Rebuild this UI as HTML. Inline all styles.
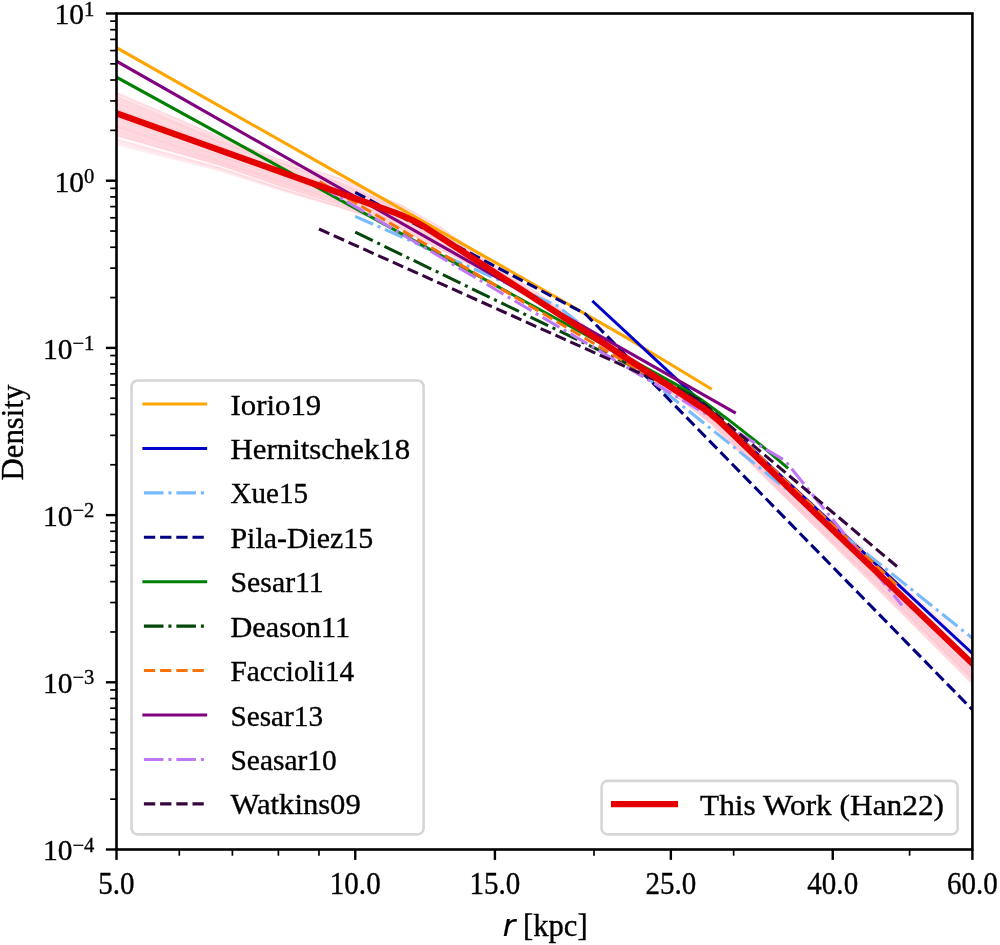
<!DOCTYPE html><html><head><meta charset="utf-8"><style>html,body{margin:0;padding:0;background:#fff;overflow:hidden}svg{display:block}</style></head><body><svg width="1000" height="945" viewBox="0 0 1000 945">
<rect width="1000" height="945" fill="#fff"/>
<defs><clipPath id="ax"><rect x="116.5" y="13.5" width="855.9" height="836.0"/></clipPath></defs>
<g clip-path="url(#ax)" fill="none" stroke-linejoin="round">
<polygon points="110.00,88.69 117.00,91.49 220.00,136.29 280.00,158.73 340.00,177.17 380.00,195.46 400.00,203.61 440.00,225.83 500.00,267.89 560.00,306.95 620.00,349.01 680.00,389.07 711.00,409.25 760.00,455.19 850.00,534.41 971.00,637.33 980.00,644.95 980.00,692.25 971.00,683.33 850.00,562.41 760.00,473.19 711.00,424.25 680.00,400.07 620.00,358.01 560.00,317.95 500.00,280.89 440.00,249.83 400.00,229.61 380.00,220.46 340.00,208.17 280.00,190.73 220.00,171.29 117.00,145.49 110.00,143.49" fill="#FFC0CB" fill-opacity="0.10" stroke="none"/>
<polygon points="110.00,93.69 117.00,96.49 220.00,139.29 280.00,161.73 340.00,182.17 380.00,199.46 400.00,206.61 440.00,229.83 500.00,270.89 560.00,309.95 620.00,351.01 680.00,391.07 711.00,411.25 760.00,458.19 850.00,546.41 971.00,666.83 980.00,675.65 980.00,688.85 971.00,679.83 850.00,559.41 760.00,471.19 711.00,422.25 680.00,398.07 620.00,356.01 560.00,315.95 500.00,278.89 440.00,246.83 400.00,226.61 380.00,218.46 340.00,205.17 280.00,185.73 220.00,165.29 117.00,135.49 110.00,133.49" fill="#FFC0CB" fill-opacity="0.45" stroke="none"/>
<g stroke="#FFC0CB" stroke-width="1.0" stroke-opacity="0.16">
<polyline points="110.00,125.65 117.00,124.51 220.00,158.80 280.00,179.42 340.00,197.07 380.00,213.94 400.00,220.42 440.00,241.26 500.00,277.09 560.00,314.57 620.00,354.72 680.00,396.61 711.00,419.34 760.00,467.80 850.00,556.14 971.00,676.88 980.00,686.22"/>
<polyline points="110.00,124.05 117.00,126.98 220.00,159.65 280.00,182.80 340.00,200.52 380.00,214.74 400.00,223.09 440.00,244.75 500.00,277.19 560.00,314.58 620.00,355.49 680.00,396.24 711.00,419.86 760.00,468.90 850.00,557.96 971.00,676.70 980.00,684.89"/>
<polyline points="110.00,90.24 117.00,93.08 220.00,137.28 280.00,159.67 340.00,178.65 380.00,196.65 400.00,204.45 440.00,226.89 500.00,268.70 560.00,308.05 620.00,349.54 680.00,389.67 711.00,409.72 760.00,456.11 850.00,539.22 971.00,647.27 980.00,656.15"/>
<polyline points="110.00,133.76 117.00,135.49 220.00,165.63 280.00,185.88 340.00,205.22 380.00,218.58 400.00,226.93 440.00,246.95 500.00,279.05 560.00,316.16 620.00,356.01 680.00,398.07 711.00,422.35 760.00,471.19 850.00,559.43 971.00,680.07 980.00,689.05"/>
<polyline points="110.00,93.07 117.00,95.76 220.00,138.78 280.00,161.45 340.00,181.62 380.00,198.83 400.00,206.32 440.00,229.17 500.00,270.43 560.00,309.62 620.00,350.74 680.00,390.82 711.00,411.04 760.00,457.92 850.00,545.01 971.00,662.67 980.00,674.79"/>
<polyline points="110.00,111.25 117.00,109.89 220.00,148.76 280.00,170.50 340.00,191.77 380.00,208.76 400.00,215.33 440.00,237.50 500.00,274.21 560.00,312.45 620.00,352.95 680.00,393.83 711.00,414.64 760.00,462.84 850.00,551.02 971.00,672.54 980.00,681.36"/>
<polyline points="110.00,121.50 117.00,131.16 220.00,162.96 280.00,179.90 340.00,200.58 380.00,215.76 400.00,223.38 440.00,243.42 500.00,277.56 560.00,315.25 620.00,355.35 680.00,397.20 711.00,421.65 760.00,469.08 850.00,556.96 971.00,677.37 980.00,686.68"/>
<polyline points="110.00,125.40 117.00,125.22 220.00,161.02 280.00,180.73 340.00,198.75 380.00,213.66 400.00,221.09 440.00,242.43 500.00,277.52 560.00,314.59 620.00,355.14 680.00,396.59 711.00,419.18 760.00,468.01 850.00,557.78 971.00,676.59 980.00,685.41"/>
<polyline points="110.00,114.62 117.00,116.29 220.00,154.12 280.00,173.59 340.00,195.00 380.00,209.18 400.00,216.74 440.00,238.25 500.00,275.40 560.00,313.03 620.00,353.96 680.00,394.42 711.00,416.81 760.00,463.99 850.00,554.13 971.00,673.77 980.00,682.56"/>
<polyline points="110.00,93.35 117.00,96.06 220.00,138.92 280.00,161.53 340.00,181.73 380.00,199.25 400.00,206.26 440.00,229.49 500.00,270.59 560.00,309.61 620.00,350.78 680.00,390.86 711.00,411.03 760.00,458.07 850.00,545.71 971.00,663.39 980.00,674.37"/>
<polyline points="110.00,122.73 117.00,123.70 220.00,157.18 280.00,178.51 340.00,198.48 380.00,212.99 400.00,220.54 440.00,241.89 500.00,276.72 560.00,314.12 620.00,354.24 680.00,396.13 711.00,418.52 760.00,466.90 850.00,555.34 971.00,675.73 980.00,684.35"/>
<polyline points="110.00,98.99 117.00,100.68 220.00,142.48 280.00,164.17 340.00,184.55 380.00,200.98 400.00,208.70 440.00,230.29 500.00,271.42 560.00,310.74 620.00,351.39 680.00,392.03 711.00,411.93 760.00,459.49 850.00,548.12 971.00,667.77 980.00,676.78"/>
<polyline points="110.00,142.67 117.00,145.49 220.00,171.21 280.00,190.57 340.00,207.92 380.00,220.35 400.00,229.61 440.00,249.83 500.00,280.88 560.00,317.83 620.00,357.89 680.00,400.03 711.00,424.13 760.00,473.19 850.00,562.09 971.00,683.33 980.00,692.25"/>
<polyline points="110.00,131.63 117.00,133.57 220.00,165.26 280.00,185.73 340.00,204.62 380.00,217.90 400.00,226.61 440.00,246.83 500.00,278.89 560.00,315.65 620.00,355.97 680.00,398.04 711.00,421.23 760.00,471.19 850.00,559.22 971.00,679.40 980.00,688.85"/>
<polyline points="110.00,90.25 117.00,93.21 220.00,136.98 280.00,159.62 340.00,178.11 380.00,196.48 400.00,204.18 440.00,226.65 500.00,268.77 560.00,307.82 620.00,349.47 680.00,389.65 711.00,409.70 760.00,456.01 850.00,536.83 971.00,644.33 980.00,651.19"/>
<polyline points="110.00,97.15 117.00,96.49 220.00,140.88 280.00,163.52 340.00,182.26 380.00,201.47 400.00,207.46 440.00,229.83 500.00,271.36 560.00,310.08 620.00,351.01 680.00,391.07 711.00,411.76 760.00,458.27 850.00,547.23 971.00,667.51 980.00,675.85"/>
<polyline points="110.00,127.99 117.00,126.80 220.00,160.09 280.00,181.97 340.00,201.65 380.00,213.59 400.00,223.78 440.00,244.54 500.00,277.17 560.00,314.84 620.00,355.10 680.00,397.02 711.00,419.69 760.00,468.49 850.00,557.54 971.00,677.78 980.00,687.00"/>
<polyline points="110.00,93.69 117.00,103.02 220.00,139.46 280.00,162.25 340.00,182.48 380.00,200.24 400.00,206.64 440.00,229.83 500.00,270.89 560.00,310.07 620.00,351.03 680.00,391.08 711.00,412.48 760.00,458.94 850.00,547.32 971.00,666.90 980.00,676.15"/>
<polyline points="110.00,94.98 117.00,98.60 220.00,141.70 280.00,163.22 340.00,183.08 380.00,199.46 400.00,208.04 440.00,231.11 500.00,271.06 560.00,310.51 620.00,351.01 680.00,391.42 711.00,411.62 760.00,458.88 850.00,546.88 971.00,667.11 980.00,675.80"/>
<polyline points="110.00,138.69 117.00,141.00 220.00,168.92 280.00,188.49 340.00,207.03 380.00,219.53 400.00,228.26 440.00,248.50 500.00,280.07 560.00,317.05 620.00,357.07 680.00,399.15 711.00,423.24 760.00,472.40 850.00,561.17 971.00,681.83 980.00,690.77"/>
<polyline points="110.00,101.79 117.00,105.96 220.00,145.57 280.00,167.23 340.00,187.61 380.00,203.74 400.00,212.53 440.00,235.24 500.00,272.70 560.00,311.22 620.00,352.60 680.00,393.24 711.00,413.46 760.00,460.46 850.00,549.98 971.00,670.49 980.00,678.56"/>
<polyline points="110.00,119.04 117.00,119.79 220.00,155.62 280.00,177.14 340.00,195.12 380.00,211.39 400.00,218.08 440.00,240.75 500.00,275.49 560.00,313.37 620.00,353.93 680.00,395.35 711.00,417.56 760.00,466.28 850.00,554.47 971.00,674.85 980.00,683.89"/>
<polyline points="110.00,138.75 117.00,140.30 220.00,168.43 280.00,187.96 340.00,206.49 380.00,219.46 400.00,228.10 440.00,248.31 500.00,279.89 560.00,316.97 620.00,356.84 680.00,399.14 711.00,423.25 760.00,472.20 850.00,560.84 971.00,681.59 980.00,690.46"/>
<polyline points="110.00,96.10 117.00,96.49 220.00,141.92 280.00,161.95 340.00,182.17 380.00,199.46 400.00,207.59 440.00,231.12 500.00,271.46 560.00,310.05 620.00,351.46 680.00,391.27 711.00,411.34 760.00,458.64 850.00,546.94 971.00,667.27 980.00,676.29"/>
<polyline points="110.00,131.76 117.00,135.49 220.00,164.26 280.00,185.73 340.00,204.45 380.00,217.51 400.00,226.15 440.00,246.83 500.00,278.89 560.00,315.66 620.00,355.38 680.00,398.07 711.00,422.11 760.00,470.85 850.00,559.16 971.00,678.96 980.00,688.85"/>
<polyline points="110.00,91.35 117.00,94.15 220.00,137.87 280.00,160.40 340.00,179.62 380.00,197.58 400.00,205.15 440.00,227.90 500.00,269.48 560.00,308.47 620.00,350.06 680.00,390.10 711.00,410.37 760.00,456.73 850.00,540.78 971.00,655.70 980.00,661.65"/>
<polyline points="110.00,113.28 117.00,116.20 220.00,152.32 280.00,174.36 340.00,191.86 380.00,208.68 400.00,215.49 440.00,237.70 500.00,274.97 560.00,313.04 620.00,353.33 680.00,394.55 711.00,416.46 760.00,464.58 850.00,552.43 971.00,672.85 980.00,682.75"/>
<polyline points="110.00,125.87 117.00,129.73 220.00,161.38 280.00,182.97 340.00,202.00 380.00,215.44 400.00,222.51 440.00,244.07 500.00,277.59 560.00,314.91 620.00,355.22 680.00,396.52 711.00,420.59 760.00,468.94 850.00,557.34 971.00,677.52 980.00,686.40"/>
<polyline points="110.00,106.43 117.00,108.59 220.00,146.05 280.00,170.07 340.00,186.91 380.00,204.34 400.00,211.56 440.00,233.74 500.00,272.87 560.00,311.55 620.00,352.56 680.00,392.70 711.00,415.08 760.00,461.67 850.00,550.00 971.00,670.15 980.00,679.62"/>
<polyline points="110.00,94.87 117.00,98.88 220.00,142.56 280.00,163.23 340.00,184.01 380.00,200.80 400.00,206.91 440.00,231.16 500.00,271.43 560.00,310.50 620.00,351.47 680.00,391.96 711.00,411.25 760.00,458.76 850.00,547.02 971.00,667.24 980.00,676.74"/>
<polyline points="110.00,95.38 117.00,96.49 220.00,140.67 280.00,162.69 340.00,183.14 380.00,200.75 400.00,206.61 440.00,230.57 500.00,271.03 560.00,309.95 620.00,351.01 680.00,391.72 711.00,411.25 760.00,458.49 850.00,546.41 971.00,667.31 980.00,676.41"/>
<polyline points="110.00,91.57 117.00,94.55 220.00,137.96 280.00,160.83 340.00,180.33 380.00,198.05 400.00,205.43 440.00,227.88 500.00,269.70 560.00,308.67 620.00,350.23 680.00,390.25 711.00,410.49 760.00,456.87 850.00,541.39 971.00,654.92 980.00,662.33"/>
<polyline points="110.00,105.23 117.00,103.61 220.00,144.97 280.00,167.03 340.00,188.96 380.00,205.30 400.00,211.35 440.00,234.06 500.00,272.94 560.00,311.53 620.00,352.16 680.00,392.22 711.00,414.22 760.00,462.30 850.00,549.28 971.00,670.76 980.00,679.41"/>
<polyline points="110.00,90.36 117.00,93.11 220.00,137.41 280.00,159.91 340.00,179.23 380.00,196.95 400.00,204.76 440.00,227.27 500.00,269.13 560.00,307.89 620.00,349.78 680.00,389.64 711.00,410.14 760.00,456.43 850.00,537.93 971.00,647.81 980.00,654.79"/>
<polyline points="110.00,123.48 117.00,126.33 220.00,159.21 280.00,180.79 340.00,200.88 380.00,214.79 400.00,221.93 440.00,244.11 500.00,277.31 560.00,314.36 620.00,354.84 680.00,397.26 711.00,419.93 760.00,469.39 850.00,557.58 971.00,677.59 980.00,685.55"/>
<polyline points="110.00,139.49 117.00,142.33 220.00,169.09 280.00,189.23 340.00,207.37 380.00,219.88 400.00,228.61 440.00,249.04 500.00,280.25 560.00,317.32 620.00,357.39 680.00,399.40 711.00,423.66 760.00,472.47 850.00,561.26 971.00,682.40 980.00,691.09"/>
<polyline points="110.00,95.64 117.00,99.92 220.00,140.60 280.00,165.77 340.00,184.85 380.00,202.16 400.00,208.66 440.00,232.62 500.00,271.91 560.00,310.51 620.00,351.32 680.00,391.48 711.00,412.47 760.00,459.79 850.00,546.93 971.00,667.85 980.00,677.70"/>
<polyline points="110.00,108.84 117.00,114.17 220.00,149.85 280.00,171.69 340.00,193.18 380.00,208.02 400.00,215.01 440.00,237.39 500.00,274.32 560.00,312.20 620.00,353.03 680.00,394.12 711.00,416.19 760.00,463.10 850.00,551.52 971.00,672.05 980.00,680.47"/>
<polyline points="110.00,114.32 117.00,115.03 220.00,152.78 280.00,172.25 340.00,193.91 380.00,208.42 400.00,215.80 440.00,236.84 500.00,274.62 560.00,312.87 620.00,353.47 680.00,394.61 711.00,416.79 760.00,464.66 850.00,552.53 971.00,672.97 980.00,682.09"/>
<polyline points="110.00,140.87 117.00,144.42 220.00,169.84 280.00,189.38 340.00,207.36 380.00,220.10 400.00,229.05 440.00,249.31 500.00,280.52 560.00,317.49 620.00,357.68 680.00,399.62 711.00,423.74 760.00,472.87 850.00,561.88 971.00,682.51 980.00,691.55"/>
<polyline points="110.00,116.70 117.00,118.11 220.00,157.25 280.00,175.52 340.00,197.30 380.00,211.37 400.00,218.43 440.00,239.42 500.00,275.93 560.00,313.71 620.00,353.79 680.00,395.61 711.00,418.19 760.00,465.70 850.00,554.02 971.00,675.18 980.00,683.23"/>
<polyline points="110.00,102.81 117.00,109.12 220.00,145.96 280.00,169.79 340.00,189.27 380.00,205.17 400.00,213.71 440.00,235.34 500.00,273.37 560.00,311.95 620.00,352.62 680.00,393.49 711.00,414.45 760.00,461.12 850.00,551.05 971.00,671.08 980.00,679.83"/>
<polyline points="110.00,133.49 117.00,135.60 220.00,165.32 280.00,185.98 340.00,205.17 380.00,218.53 400.00,226.70 440.00,246.87 500.00,278.98 560.00,315.95 620.00,356.01 680.00,398.08 711.00,422.25 760.00,471.40 850.00,559.41 971.00,679.83 980.00,689.00"/>
<polyline points="110.00,137.97 117.00,140.31 220.00,167.70 280.00,187.87 340.00,206.45 380.00,219.46 400.00,227.94 440.00,247.92 500.00,279.84 560.00,316.90 620.00,356.72 680.00,398.72 711.00,423.32 760.00,472.07 850.00,560.46 971.00,681.50 980.00,690.52"/>
<polyline points="110.00,132.72 117.00,135.49 220.00,164.41 280.00,185.73 340.00,204.22 380.00,218.46 400.00,226.39 440.00,246.64 500.00,278.54 560.00,315.80 620.00,355.55 680.00,398.07 711.00,422.16 760.00,470.60 850.00,559.41 971.00,679.58 980.00,688.85"/>
<polyline points="110.00,102.58 117.00,106.08 220.00,145.34 280.00,167.81 340.00,188.50 380.00,203.82 400.00,212.67 440.00,233.03 500.00,273.18 560.00,311.53 620.00,352.39 680.00,393.15 711.00,413.74 760.00,461.48 850.00,549.62 971.00,669.59 980.00,678.37"/>
<polyline points="110.00,113.85 117.00,114.87 220.00,150.97 280.00,172.88 340.00,191.72 380.00,208.19 400.00,216.77 440.00,238.53 500.00,274.70 560.00,312.78 620.00,353.42 680.00,394.12 711.00,415.90 760.00,464.38 850.00,552.67 971.00,672.87 980.00,681.81"/>
<polyline points="110.00,107.45 117.00,109.47 220.00,149.37 280.00,168.80 340.00,188.39 380.00,205.39 400.00,214.23 440.00,235.34 500.00,272.92 560.00,312.70 620.00,352.55 680.00,393.43 711.00,415.30 760.00,462.87 850.00,550.82 971.00,670.52 980.00,680.49"/>
<polyline points="110.00,108.55 117.00,113.53 220.00,149.67 280.00,170.60 340.00,190.47 380.00,207.56 400.00,213.88 440.00,236.25 500.00,273.89 560.00,312.30 620.00,353.11 680.00,393.92 711.00,416.24 760.00,464.31 850.00,551.43 971.00,672.30 980.00,680.96"/>
<polyline points="110.00,124.13 117.00,127.15 220.00,161.79 280.00,181.65 340.00,201.96 380.00,215.80 400.00,222.59 440.00,244.26 500.00,277.40 560.00,314.97 620.00,355.20 680.00,396.85 711.00,419.81 760.00,469.12 850.00,557.20 971.00,677.88 980.00,686.04"/>
<polyline points="110.00,134.36 117.00,136.32 220.00,165.29 280.00,185.75 340.00,205.34 380.00,218.73 400.00,226.76 440.00,246.97 500.00,278.95 560.00,315.99 620.00,356.17 680.00,398.18 711.00,422.25 760.00,471.19 850.00,559.52 971.00,679.91 980.00,688.85"/>
<polyline points="110.00,121.32 117.00,125.89 220.00,158.96 280.00,179.90 340.00,198.41 380.00,214.49 400.00,221.18 440.00,242.92 500.00,277.11 560.00,314.43 620.00,355.26 680.00,396.38 711.00,419.73 760.00,467.87 850.00,556.39 971.00,675.99 980.00,685.94"/>
<polyline points="110.00,98.22 117.00,103.44 220.00,142.55 280.00,166.33 340.00,186.63 380.00,202.56 400.00,210.00 440.00,233.59 500.00,271.62 560.00,310.88 620.00,351.60 680.00,392.15 711.00,412.50 760.00,460.90 850.00,548.91 971.00,668.73 980.00,678.28"/>
<polyline points="110.00,129.87 117.00,129.65 220.00,161.34 280.00,183.54 340.00,202.51 380.00,216.45 400.00,223.68 440.00,245.72 500.00,278.28 560.00,315.46 620.00,355.24 680.00,398.01 711.00,421.40 760.00,469.20 850.00,558.47 971.00,678.33 980.00,686.99"/>
<polyline points="110.00,109.12 117.00,110.31 220.00,146.08 280.00,170.67 340.00,190.46 380.00,205.96 400.00,214.01 440.00,236.90 500.00,273.69 560.00,311.43 620.00,352.56 680.00,393.37 711.00,414.60 760.00,462.66 850.00,551.35 971.00,671.22 980.00,679.93"/>
<polyline points="110.00,131.57 117.00,132.17 220.00,163.66 280.00,184.18 340.00,203.18 380.00,216.88 400.00,225.19 440.00,246.54 500.00,278.32 560.00,315.37 620.00,355.73 680.00,396.89 711.00,421.14 760.00,470.00 850.00,558.70 971.00,677.80 980.00,687.86"/>
<polyline points="110.00,117.59 117.00,123.74 220.00,155.21 280.00,176.85 340.00,198.80 380.00,212.10 400.00,218.44 440.00,240.76 500.00,276.32 560.00,313.59 620.00,354.01 680.00,395.50 711.00,418.21 760.00,466.03 850.00,553.79 971.00,675.23 980.00,683.79"/>
<polyline points="110.00,120.83 117.00,127.91 220.00,159.53 280.00,178.80 340.00,198.57 380.00,213.36 400.00,220.97 440.00,240.66 500.00,276.02 560.00,314.31 620.00,354.75 680.00,396.22 711.00,419.25 760.00,467.22 850.00,555.93 971.00,676.65 980.00,685.10"/>
<polyline points="110.00,122.20 117.00,125.08 220.00,157.05 280.00,180.21 340.00,200.40 380.00,213.68 400.00,221.07 440.00,244.02 500.00,277.22 560.00,314.72 620.00,354.36 680.00,396.81 711.00,420.10 760.00,468.67 850.00,556.38 971.00,675.92 980.00,687.00"/>
<polyline points="110.00,127.67 117.00,127.14 220.00,162.42 280.00,181.81 340.00,201.04 380.00,215.56 400.00,222.72 440.00,244.10 500.00,277.28 560.00,315.11 620.00,355.16 680.00,397.02 711.00,420.63 760.00,469.51 850.00,556.64 971.00,678.00 980.00,686.78"/>
<polyline points="110.00,114.00 117.00,119.19 220.00,152.20 280.00,172.65 340.00,193.81 380.00,207.58 400.00,215.31 440.00,238.61 500.00,274.75 560.00,313.01 620.00,353.69 680.00,394.44 711.00,415.88 760.00,463.99 850.00,552.08 971.00,673.04 980.00,681.67"/>
<polyline points="110.00,119.87 117.00,117.53 220.00,155.35 280.00,176.74 340.00,196.16 380.00,211.03 400.00,218.16 440.00,240.08 500.00,275.68 560.00,313.54 620.00,353.90 680.00,394.95 711.00,417.94 760.00,466.14 850.00,553.61 971.00,674.47 980.00,683.51"/>
<polyline points="110.00,141.44 117.00,142.69 220.00,169.80 280.00,189.18 340.00,207.45 380.00,219.98 400.00,229.18 440.00,248.89 500.00,280.43 560.00,317.51 620.00,357.52 680.00,399.63 711.00,423.76 760.00,472.75 850.00,561.71 971.00,682.53 980.00,691.36"/>
<polyline points="110.00,90.71 117.00,93.84 220.00,137.38 280.00,159.86 340.00,178.98 380.00,196.87 400.00,204.85 440.00,227.35 500.00,269.07 560.00,307.92 620.00,349.82 680.00,389.79 711.00,409.88 760.00,456.27 850.00,538.33 971.00,650.61 980.00,654.90"/>
<polyline points="110.00,137.20 117.00,138.96 220.00,167.73 280.00,187.60 340.00,206.45 380.00,219.36 400.00,227.85 440.00,248.26 500.00,279.73 560.00,316.73 620.00,356.69 680.00,398.87 711.00,423.06 760.00,472.05 850.00,560.57 971.00,681.20 980.00,690.33"/>
<polyline points="110.00,100.64 117.00,102.43 220.00,143.23 280.00,163.01 340.00,184.88 380.00,202.63 400.00,208.97 440.00,232.60 500.00,272.02 560.00,310.86 620.00,351.77 680.00,392.46 711.00,413.10 760.00,460.15 850.00,547.75 971.00,668.95 980.00,677.07"/>
<polyline points="110.00,139.77 117.00,141.94 220.00,168.52 280.00,188.91 340.00,207.00 380.00,219.74 400.00,228.45 440.00,248.61 500.00,280.05 560.00,317.15 620.00,357.17 680.00,399.19 711.00,423.57 760.00,472.48 850.00,561.15 971.00,682.02 980.00,691.06"/>
<polyline points="110.00,118.49 117.00,122.28 220.00,156.86 280.00,176.64 340.00,196.17 380.00,212.19 400.00,219.99 440.00,240.59 500.00,276.28 560.00,313.88 620.00,354.44 680.00,395.76 711.00,419.18 760.00,467.70 850.00,555.56 971.00,675.66 980.00,685.03"/>
<polyline points="110.00,105.55 117.00,108.97 220.00,145.74 280.00,170.90 340.00,189.84 380.00,205.57 400.00,212.97 440.00,235.97 500.00,273.17 560.00,311.79 620.00,352.64 680.00,393.00 711.00,414.39 760.00,461.60 850.00,550.47 971.00,670.63 980.00,679.70"/>
<polyline points="110.00,127.70 117.00,127.49 220.00,161.68 280.00,182.16 340.00,200.09 380.00,214.02 400.00,223.40 440.00,243.28 500.00,277.25 560.00,314.76 620.00,355.16 680.00,396.29 711.00,420.63 760.00,468.70 850.00,557.56 971.00,676.96 980.00,686.07"/>
<polyline points="110.00,112.17 117.00,114.07 220.00,150.96 280.00,170.35 340.00,192.77 380.00,208.06 400.00,215.07 440.00,237.01 500.00,274.41 560.00,312.57 620.00,353.12 680.00,394.23 711.00,415.82 760.00,464.68 850.00,551.19 971.00,672.56 980.00,681.94"/>
<polyline points="110.00,89.34 117.00,92.26 220.00,136.98 280.00,159.45 340.00,178.32 380.00,195.98 400.00,204.29 440.00,226.89 500.00,268.32 560.00,307.30 620.00,349.46 680.00,389.46 711.00,409.60 760.00,455.72 850.00,535.77 971.00,641.64 980.00,650.66"/>
<polyline points="110.00,109.07 117.00,113.24 220.00,149.18 280.00,170.91 340.00,190.87 380.00,206.73 400.00,214.79 440.00,237.00 500.00,274.38 560.00,312.10 620.00,353.07 680.00,394.28 711.00,415.32 760.00,463.24 850.00,552.50 971.00,671.65 980.00,680.92"/>
<polyline points="110.00,101.51 117.00,104.58 220.00,143.86 280.00,165.45 340.00,187.01 380.00,203.06 400.00,210.01 440.00,233.78 500.00,272.15 560.00,310.97 620.00,352.04 680.00,392.34 711.00,413.08 760.00,460.84 850.00,549.92 971.00,668.79 980.00,678.16"/>
<polyline points="110.00,97.84 117.00,97.27 220.00,143.08 280.00,162.93 340.00,184.68 380.00,202.01 400.00,208.77 440.00,231.94 500.00,272.00 560.00,310.95 620.00,351.53 680.00,391.84 711.00,412.17 760.00,460.57 850.00,548.34 971.00,667.58 980.00,676.97"/>
<polyline points="110.00,105.46 117.00,111.35 220.00,149.53 280.00,170.86 340.00,192.00 380.00,206.97 400.00,214.50 440.00,236.35 500.00,274.26 560.00,312.51 620.00,352.86 680.00,393.99 711.00,414.84 760.00,462.79 850.00,551.14 971.00,671.46 980.00,681.00"/>
<polyline points="110.00,127.46 117.00,130.69 220.00,162.90 280.00,182.32 340.00,201.85 380.00,215.78 400.00,223.52 440.00,244.83 500.00,277.86 560.00,315.42 620.00,355.14 680.00,396.94 711.00,420.62 760.00,468.95 850.00,557.76 971.00,677.82 980.00,686.25"/>
<polyline points="110.00,138.02 117.00,139.94 220.00,167.95 280.00,188.28 340.00,206.67 380.00,219.34 400.00,228.10 440.00,248.45 500.00,279.94 560.00,316.87 620.00,357.06 680.00,398.89 711.00,423.20 760.00,472.13 850.00,561.02 971.00,681.37 980.00,690.38"/>
<polyline points="110.00,102.95 117.00,106.04 220.00,147.30 280.00,169.20 340.00,188.02 380.00,204.58 400.00,213.66 440.00,235.51 500.00,273.49 560.00,311.66 620.00,352.39 680.00,393.09 711.00,414.29 760.00,462.12 850.00,549.11 971.00,671.13 980.00,679.77"/>
<polyline points="110.00,119.27 117.00,121.03 220.00,156.38 280.00,177.55 340.00,195.93 380.00,211.29 400.00,220.02 440.00,240.07 500.00,275.90 560.00,313.51 620.00,353.85 680.00,395.10 711.00,418.20 760.00,466.48 850.00,553.24 971.00,674.83 980.00,683.80"/>
<polyline points="110.00,119.43 117.00,120.95 220.00,155.44 280.00,176.74 340.00,196.39 380.00,210.52 400.00,219.52 440.00,240.05 500.00,276.12 560.00,313.75 620.00,354.11 680.00,395.45 711.00,419.22 760.00,467.13 850.00,555.11 971.00,676.04 980.00,683.56"/>
<polyline points="110.00,138.07 117.00,139.69 220.00,168.21 280.00,188.25 340.00,206.57 380.00,219.35 400.00,227.72 440.00,248.41 500.00,279.89 560.00,316.83 620.00,356.86 680.00,399.04 711.00,423.03 760.00,472.18 850.00,560.92 971.00,681.30 980.00,690.30"/>
<polyline points="110.00,141.90 117.00,143.68 220.00,170.60 280.00,189.49 340.00,207.58 380.00,219.99 400.00,229.03 440.00,249.09 500.00,280.44 560.00,317.45 620.00,357.70 680.00,399.58 711.00,423.95 760.00,472.78 850.00,561.64 971.00,682.65 980.00,691.54"/>
<polyline points="110.00,90.26 117.00,93.21 220.00,137.27 280.00,159.77 340.00,178.69 380.00,196.65 400.00,204.77 440.00,227.11 500.00,269.02 560.00,307.67 620.00,349.57 680.00,389.63 711.00,409.90 760.00,456.14 850.00,538.69 971.00,647.33 980.00,654.74"/>
<polyline points="110.00,107.60 117.00,108.24 220.00,147.47 280.00,170.08 340.00,188.68 380.00,204.81 400.00,213.62 440.00,235.73 500.00,273.38 560.00,311.97 620.00,352.60 680.00,393.14 711.00,414.01 760.00,462.61 850.00,549.48 971.00,670.64 980.00,679.28"/>
<polyline points="110.00,132.83 117.00,132.61 220.00,162.58 280.00,184.73 340.00,202.65 380.00,216.36 400.00,223.05 440.00,245.63 500.00,278.06 560.00,314.80 620.00,355.58 680.00,397.47 711.00,420.96 760.00,470.49 850.00,558.00 971.00,678.39 980.00,687.67"/>
<polyline points="110.00,112.97 117.00,120.31 220.00,151.95 280.00,174.35 340.00,194.26 380.00,208.79 400.00,216.69 440.00,238.83 500.00,275.13 560.00,313.89 620.00,353.43 680.00,394.48 711.00,416.67 760.00,464.27 850.00,552.69 971.00,673.53 980.00,682.60"/>
<polyline points="110.00,110.13 117.00,111.65 220.00,148.99 280.00,171.54 340.00,192.28 380.00,206.64 400.00,214.74 440.00,237.19 500.00,273.84 560.00,312.47 620.00,353.07 680.00,394.19 711.00,415.34 760.00,463.25 850.00,552.47 971.00,673.14 980.00,681.32"/>
<polyline points="110.00,91.67 117.00,94.98 220.00,138.22 280.00,160.68 340.00,180.50 380.00,198.17 400.00,205.52 440.00,228.47 500.00,269.64 560.00,309.03 620.00,350.41 680.00,390.34 711.00,410.59 760.00,457.12 850.00,543.29 971.00,656.16 980.00,662.80"/>
<polyline points="110.00,133.07 117.00,135.49 220.00,163.88 280.00,185.73 340.00,204.12 380.00,218.46 400.00,226.50 440.00,245.66 500.00,278.15 560.00,315.80 620.00,355.86 680.00,397.78 711.00,422.25 760.00,471.11 850.00,559.41 971.00,679.07 980.00,688.54"/>
</g>
<polyline points="116.50,47.70 330.00,168.60 520.00,276.50 630.00,339.70 710.50,388.50" stroke="#FFA500" stroke-width="3.06" stroke-linecap="square"/>
<polyline points="593.50,302.00 980.00,660.50" stroke="#0000CD" stroke-width="3.06" stroke-linecap="square"/>
<polyline points="355.20,216.30 557.70,306.00 980.00,644.30" stroke="#75BBFD" stroke-width="3.06" stroke-dasharray="19.6 4.9 3.06 4.9" stroke-linecap="butt"/>
<polyline points="355.20,192.40 585.40,314.00 980.00,717.50" stroke="#000080" stroke-width="3.06" stroke-dasharray="11.3 4.9" stroke-linecap="butt"/>
<polyline points="116.50,77.20 685.00,389.30 701.00,399.60 714.00,408.90 727.40,418.90 760.00,444.40 787.00,467.40" stroke="#008000" stroke-width="3.06" stroke-linecap="square"/>
<polyline points="355.20,232.20 697.40,397.80 860.00,555.50" stroke="#06470C" stroke-width="3.06" stroke-dasharray="19.6 4.9 3.06 4.9" stroke-linecap="butt"/>
<polyline points="319.50,181.60 716.30,415.70 898.70,586.80" stroke="#F97306" stroke-width="3.06" stroke-dasharray="11.3 4.9" stroke-linecap="butt"/>
<polyline points="116.50,61.20 734.40,412.40" stroke="#800080" stroke-width="3.06" stroke-linecap="square"/>
<polyline points="319.00,185.20 785.00,460.60 902.00,605.40" stroke="#BF77F6" stroke-width="3.06" stroke-dasharray="19.6 4.9 3.06 4.9" stroke-linecap="butt"/>
<polyline points="319.00,229.00 698.70,399.50 899.50,568.60" stroke="#35063E" stroke-width="3.06" stroke-dasharray="11.3 4.9" stroke-linecap="butt"/>
<path d="M110,110.99 L395.00,212.82 Q413.00,219.25 432.00,231.62 L701.00,406.74 Q711.00,413.25 722.00,423.79 L980,670.95" stroke="#E40000" stroke-width="6.3"/>
</g>
<rect x="116.5" y="13.5" width="855.9" height="836.0" fill="none" stroke="#000" stroke-width="2.6"/>
<g stroke="#000"><line x1="105.9" y1="849.50" x2="116.5" y2="849.50" stroke-width="2.4"/><line x1="110.2" y1="799.17" x2="116.5" y2="799.17" stroke-width="1.7"/><line x1="110.2" y1="769.73" x2="116.5" y2="769.73" stroke-width="1.7"/><line x1="110.2" y1="748.84" x2="116.5" y2="748.84" stroke-width="1.7"/><line x1="110.2" y1="732.63" x2="116.5" y2="732.63" stroke-width="1.7"/><line x1="110.2" y1="719.39" x2="116.5" y2="719.39" stroke-width="1.7"/><line x1="110.2" y1="708.20" x2="116.5" y2="708.20" stroke-width="1.7"/><line x1="110.2" y1="698.50" x2="116.5" y2="698.50" stroke-width="1.7"/><line x1="110.2" y1="689.95" x2="116.5" y2="689.95" stroke-width="1.7"/><line x1="105.9" y1="682.30" x2="116.5" y2="682.30" stroke-width="2.4"/><line x1="110.2" y1="631.97" x2="116.5" y2="631.97" stroke-width="1.7"/><line x1="110.2" y1="602.53" x2="116.5" y2="602.53" stroke-width="1.7"/><line x1="110.2" y1="581.64" x2="116.5" y2="581.64" stroke-width="1.7"/><line x1="110.2" y1="565.43" x2="116.5" y2="565.43" stroke-width="1.7"/><line x1="110.2" y1="552.19" x2="116.5" y2="552.19" stroke-width="1.7"/><line x1="110.2" y1="541.00" x2="116.5" y2="541.00" stroke-width="1.7"/><line x1="110.2" y1="531.30" x2="116.5" y2="531.30" stroke-width="1.7"/><line x1="110.2" y1="522.75" x2="116.5" y2="522.75" stroke-width="1.7"/><line x1="105.9" y1="515.10" x2="116.5" y2="515.10" stroke-width="2.4"/><line x1="110.2" y1="464.77" x2="116.5" y2="464.77" stroke-width="1.7"/><line x1="110.2" y1="435.33" x2="116.5" y2="435.33" stroke-width="1.7"/><line x1="110.2" y1="414.44" x2="116.5" y2="414.44" stroke-width="1.7"/><line x1="110.2" y1="398.23" x2="116.5" y2="398.23" stroke-width="1.7"/><line x1="110.2" y1="384.99" x2="116.5" y2="384.99" stroke-width="1.7"/><line x1="110.2" y1="373.80" x2="116.5" y2="373.80" stroke-width="1.7"/><line x1="110.2" y1="364.10" x2="116.5" y2="364.10" stroke-width="1.7"/><line x1="110.2" y1="355.55" x2="116.5" y2="355.55" stroke-width="1.7"/><line x1="105.9" y1="347.90" x2="116.5" y2="347.90" stroke-width="2.4"/><line x1="110.2" y1="297.57" x2="116.5" y2="297.57" stroke-width="1.7"/><line x1="110.2" y1="268.13" x2="116.5" y2="268.13" stroke-width="1.7"/><line x1="110.2" y1="247.24" x2="116.5" y2="247.24" stroke-width="1.7"/><line x1="110.2" y1="231.03" x2="116.5" y2="231.03" stroke-width="1.7"/><line x1="110.2" y1="217.79" x2="116.5" y2="217.79" stroke-width="1.7"/><line x1="110.2" y1="206.60" x2="116.5" y2="206.60" stroke-width="1.7"/><line x1="110.2" y1="196.90" x2="116.5" y2="196.90" stroke-width="1.7"/><line x1="110.2" y1="188.35" x2="116.5" y2="188.35" stroke-width="1.7"/><line x1="105.9" y1="180.70" x2="116.5" y2="180.70" stroke-width="2.4"/><line x1="110.2" y1="130.37" x2="116.5" y2="130.37" stroke-width="1.7"/><line x1="110.2" y1="100.93" x2="116.5" y2="100.93" stroke-width="1.7"/><line x1="110.2" y1="80.04" x2="116.5" y2="80.04" stroke-width="1.7"/><line x1="110.2" y1="63.83" x2="116.5" y2="63.83" stroke-width="1.7"/><line x1="110.2" y1="50.59" x2="116.5" y2="50.59" stroke-width="1.7"/><line x1="110.2" y1="39.40" x2="116.5" y2="39.40" stroke-width="1.7"/><line x1="110.2" y1="29.70" x2="116.5" y2="29.70" stroke-width="1.7"/><line x1="110.2" y1="21.15" x2="116.5" y2="21.15" stroke-width="1.7"/><line x1="105.9" y1="13.50" x2="116.5" y2="13.50" stroke-width="2.4"/><line x1="116.50" y1="849.5" x2="116.50" y2="859.9" stroke-width="2.4"/><line x1="355.25" y1="849.5" x2="355.25" y2="859.9" stroke-width="2.4"/><line x1="494.91" y1="849.5" x2="494.91" y2="859.9" stroke-width="2.4"/><line x1="670.85" y1="849.5" x2="670.85" y2="859.9" stroke-width="2.4"/><line x1="832.74" y1="849.5" x2="832.74" y2="859.9" stroke-width="2.4"/><line x1="972.40" y1="849.5" x2="972.40" y2="859.9" stroke-width="2.4"/><line x1="179.30" y1="849.5" x2="179.30" y2="855.7" stroke-width="1.7"/><line x1="232.39" y1="849.5" x2="232.39" y2="855.7" stroke-width="1.7"/><line x1="278.39" y1="849.5" x2="278.39" y2="855.7" stroke-width="1.7"/><line x1="318.96" y1="849.5" x2="318.96" y2="855.7" stroke-width="1.7"/><line x1="593.99" y1="849.5" x2="593.99" y2="855.7" stroke-width="1.7"/><line x1="733.65" y1="849.5" x2="733.65" y2="855.7" stroke-width="1.7"/><line x1="909.60" y1="849.5" x2="909.60" y2="855.7" stroke-width="1.7"/></g>
<g font-family="'Liberation Serif', 'DejaVu Serif', serif" font-size="29.5" fill="#000" stroke="#000" stroke-width="0.35">
<text x="116.50" y="893.6" text-anchor="middle" font-size="30.6" textLength="36.32" lengthAdjust="spacingAndGlyphs">5.0</text>
<text x="355.25" y="893.6" text-anchor="middle" font-size="30.6" textLength="50.85" lengthAdjust="spacingAndGlyphs">10.0</text>
<text x="494.91" y="893.6" text-anchor="middle" font-size="30.6" textLength="50.85" lengthAdjust="spacingAndGlyphs">15.0</text>
<text x="670.85" y="893.6" text-anchor="middle" font-size="30.6" textLength="50.85" lengthAdjust="spacingAndGlyphs">25.0</text>
<text x="832.74" y="893.6" text-anchor="middle" font-size="30.6" textLength="50.85" lengthAdjust="spacingAndGlyphs">40.0</text>
<text x="972.40" y="893.6" text-anchor="middle" font-size="30.6" textLength="50.85" lengthAdjust="spacingAndGlyphs">60.0</text>
<text x="94.4" y="860.40" text-anchor="end">10<tspan font-size="20.6" dy="-8.9">−4</tspan></text>
<text x="94.4" y="693.20" text-anchor="end">10<tspan font-size="20.6" dy="-8.9">−3</tspan></text>
<text x="94.4" y="526.00" text-anchor="end">10<tspan font-size="20.6" dy="-8.9">−2</tspan></text>
<text x="94.4" y="358.80" text-anchor="end">10<tspan font-size="20.6" dy="-8.9">−1</tspan></text>
<text x="94.4" y="191.60" text-anchor="end">10<tspan font-size="20.6" dy="-8.9">0</tspan></text>
<text x="94.4" y="24.40" text-anchor="end">10<tspan font-size="20.6" dy="-8.9">1</tspan></text>
<text id="t_density" transform="translate(22.8,432.6) rotate(-90)" text-anchor="middle" font-size="30.6" textLength="95.82" lengthAdjust="spacingAndGlyphs">Density</text>
<text x="545.2" y="935.8" text-anchor="middle" font-size="30.6"><tspan font-family="DejaVu Sans" font-style="italic" stroke-width="0.2">r</tspan> [kpc]</text>
</g>
<rect x="131.55" y="380.5" width="292.05" height="453.9" rx="6" fill="#fff" fill-opacity="0.8" stroke="#d6d6d6" stroke-width="2.6"/><line x1="143.9" y1="404.00" x2="205.6" y2="404.00" stroke="#FFA500" stroke-width="3.06" stroke-linecap="square"/><text id="t0" x="230.5" y="414.60" font-family="'Liberation Serif', 'DejaVu Serif', serif" font-size="29.0" stroke="#000" stroke-width="0.35" textLength="90.77" lengthAdjust="spacingAndGlyphs">Iorio19</text><line x1="143.9" y1="448.43" x2="205.6" y2="448.43" stroke="#0000CD" stroke-width="3.06" stroke-linecap="square"/><text id="t1" x="230.5" y="459.03" font-family="'Liberation Serif', 'DejaVu Serif', serif" font-size="29.0" stroke="#000" stroke-width="0.35" textLength="179.80" lengthAdjust="spacingAndGlyphs">Hernitschek18</text><line x1="143.9" y1="492.86" x2="205.6" y2="492.86" stroke="#75BBFD" stroke-width="3.06" stroke-dasharray="19.6 4.9 3.06 4.9" stroke-linecap="butt"/><text id="t2" x="230.5" y="503.46" font-family="'Liberation Serif', 'DejaVu Serif', serif" font-size="29.0" stroke="#000" stroke-width="0.35" textLength="77.55" lengthAdjust="spacingAndGlyphs">Xue15</text><line x1="143.9" y1="537.29" x2="205.6" y2="537.29" stroke="#000080" stroke-width="3.06" stroke-dasharray="11.3 4.9" stroke-linecap="butt"/><text id="t3" x="230.5" y="547.89" font-family="'Liberation Serif', 'DejaVu Serif', serif" font-size="29.0" stroke="#000" stroke-width="0.35" textLength="142.68" lengthAdjust="spacingAndGlyphs">Pila-Diez15</text><line x1="143.9" y1="581.72" x2="205.6" y2="581.72" stroke="#008000" stroke-width="3.06" stroke-linecap="square"/><text id="t4" x="230.5" y="592.32" font-family="'Liberation Serif', 'DejaVu Serif', serif" font-size="29.0" stroke="#000" stroke-width="0.35" textLength="93.27" lengthAdjust="spacingAndGlyphs">Sesar11</text><line x1="143.9" y1="626.15" x2="205.6" y2="626.15" stroke="#06470C" stroke-width="3.06" stroke-dasharray="19.6 4.9 3.06 4.9" stroke-linecap="butt"/><text id="t5" x="230.5" y="636.75" font-family="'Liberation Serif', 'DejaVu Serif', serif" font-size="29.0" stroke="#000" stroke-width="0.35" textLength="119.68" lengthAdjust="spacingAndGlyphs">Deason11</text><line x1="143.9" y1="670.58" x2="205.6" y2="670.58" stroke="#F97306" stroke-width="3.06" stroke-dasharray="11.3 4.9" stroke-linecap="butt"/><text id="t6" x="230.5" y="681.18" font-family="'Liberation Serif', 'DejaVu Serif', serif" font-size="29.0" stroke="#000" stroke-width="0.35" textLength="123.75" lengthAdjust="spacingAndGlyphs">Faccioli14</text><line x1="143.9" y1="715.01" x2="205.6" y2="715.01" stroke="#800080" stroke-width="3.06" stroke-linecap="square"/><text id="t7" x="230.5" y="725.61" font-family="'Liberation Serif', 'DejaVu Serif', serif" font-size="29.0" stroke="#000" stroke-width="0.35" textLength="92.59" lengthAdjust="spacingAndGlyphs">Sesar13</text><line x1="143.9" y1="759.44" x2="205.6" y2="759.44" stroke="#BF77F6" stroke-width="3.06" stroke-dasharray="19.6 4.9 3.06 4.9" stroke-linecap="butt"/><text id="t8" x="230.5" y="770.04" font-family="'Liberation Serif', 'DejaVu Serif', serif" font-size="29.0" stroke="#000" stroke-width="0.35" textLength="106.19" lengthAdjust="spacingAndGlyphs">Seasar10</text><line x1="143.9" y1="803.87" x2="205.6" y2="803.87" stroke="#35063E" stroke-width="3.06" stroke-dasharray="11.3 4.9" stroke-linecap="butt"/><text id="t9" x="230.5" y="814.47" font-family="'Liberation Serif', 'DejaVu Serif', serif" font-size="29.0" stroke="#000" stroke-width="0.35" textLength="130.26" lengthAdjust="spacingAndGlyphs">Watkins09</text><rect x="601.6" y="780.9" width="356" height="53.5" rx="6" fill="#fff" fill-opacity="0.8" stroke="#d6d6d6" stroke-width="2.6"/><line x1="614.1" y1="804.2" x2="674.9" y2="804.2" stroke="#E40000" stroke-width="6.3" stroke-linecap="square"/><text id="t10" x="700" y="814.5" font-family="'Liberation Serif', 'DejaVu Serif', serif" font-size="29.0" stroke="#000" stroke-width="0.35" textLength="243.99" lengthAdjust="spacingAndGlyphs">This Work (Han22)</text>
</svg></body></html>
